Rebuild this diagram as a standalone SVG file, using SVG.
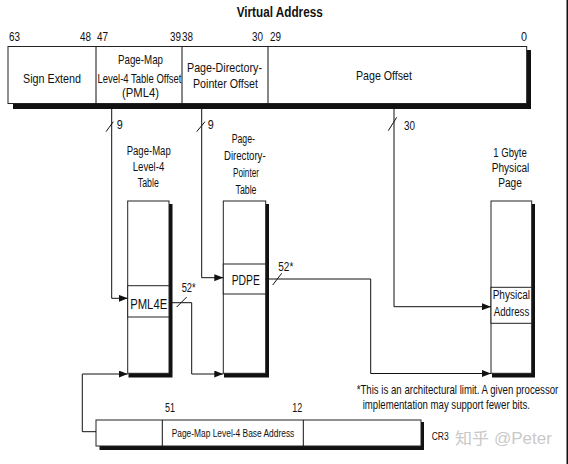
<svg xmlns="http://www.w3.org/2000/svg" width="568" height="464" viewBox="0 0 568 464">
<style>
text{font-family:"Liberation Sans",Arial,sans-serif;fill:#111}
.t13{font-size:13px}
.t12{font-size:12px}
.t14{font-size:14px}
.box{fill:#fff;stroke:#222;stroke-width:1}
.sh{fill:#111}
.ln{fill:none;stroke:#111;stroke-width:1}
.c{text-anchor:middle}
</style>
<defs>
<marker id="ah" markerUnits="userSpaceOnUse" markerWidth="9" markerHeight="7" refX="9" refY="3.5" orient="auto">
<path d="M0,0 L9,3.5 L0,7 z" fill="#111"/>
</marker>
</defs>
<rect width="568" height="464" fill="#fff"/>
<rect x="566.5" y="0" width="1.5" height="464" fill="#111"/>

<g id="title">
<text x="236.7" y="17" font-size="14" font-weight="bold" textLength="86" lengthAdjust="spacingAndGlyphs">Virtual Address</text>
</g>

<g id="virtual-address">
<rect class="sh" x="13" y="50" width="518" height="59"/>
<rect class="box" x="8" y="46.5" width="518.7" height="57"/>
<line class="ln" x1="96" y1="46.5" x2="96" y2="103.5"/>
<line class="ln" x1="182" y1="46.5" x2="182" y2="103.5"/>
<line class="ln" x1="268" y1="46.5" x2="268" y2="103.5"/>
<text class="t12" x="9" y="41" textLength="11" lengthAdjust="spacingAndGlyphs">63</text>
<text class="t12" x="80" y="41" textLength="11" lengthAdjust="spacingAndGlyphs">48</text>
<text class="t12" x="97" y="41" textLength="11" lengthAdjust="spacingAndGlyphs">47</text>
<text class="t12" x="170" y="41" textLength="11" lengthAdjust="spacingAndGlyphs">39</text>
<text class="t12" x="182" y="41" textLength="11" lengthAdjust="spacingAndGlyphs">38</text>
<text class="t12" x="252" y="41" textLength="11" lengthAdjust="spacingAndGlyphs">30</text>
<text class="t12" x="270" y="41" textLength="11" lengthAdjust="spacingAndGlyphs">29</text>
<text class="t12" x="521" y="41" textLength="6" lengthAdjust="spacingAndGlyphs">0</text>
<text class="t13 c" x="52" y="82.5" textLength="58" lengthAdjust="spacingAndGlyphs">Sign Extend</text>
<text class="t13 c" x="140.5" y="63.5" textLength="45" lengthAdjust="spacingAndGlyphs">Page-Map</text>
<text class="t13 c" transform="translate(139.5,82.5) scale(0.75,1)" x="0" y="0" textLength="112" lengthAdjust="spacingAndGlyphs">Level-4 Table Offset</text>
<text class="t13 c" x="140.5" y="97" textLength="37" lengthAdjust="spacingAndGlyphs">(PML4)</text>
<text class="t13 c" transform="translate(224.5,71.5) scale(0.82,1)" x="0" y="0" textLength="91.5" lengthAdjust="spacingAndGlyphs">Page-Directory-</text>
<text class="t13 c" x="225.5" y="88" textLength="65" lengthAdjust="spacingAndGlyphs">Pointer Offset</text>
<text class="t13 c" x="384" y="80" textLength="56" lengthAdjust="spacingAndGlyphs">Page Offset</text>
</g>

<g id="pml4-table">
<text class="t12 c" x="148.7" y="154.5" textLength="44" lengthAdjust="spacingAndGlyphs">Page-Map</text>
<text class="t12 c" x="148.5" y="170.5" textLength="31.6" lengthAdjust="spacingAndGlyphs">Level-4</text>
<text class="t12 c" x="148.3" y="186.5" textLength="21" lengthAdjust="spacingAndGlyphs">Table</text>
<rect class="sh" x="128.5" y="204" width="44" height="173.5"/>
<rect class="box" x="127.7" y="201" width="41.3" height="172.3"/>
<rect class="box" x="127.7" y="285.7" width="41.3" height="31.3"/>
<text class="t14 c" x="148.7" y="309" textLength="37" lengthAdjust="spacingAndGlyphs">PML4E</text>
</g>

<g id="pdp-table">
<text class="t12 c" x="243.3" y="143" textLength="23.3" lengthAdjust="spacingAndGlyphs">Page-</text>
<text class="t12 c" x="244.8" y="160" textLength="41.7" lengthAdjust="spacingAndGlyphs">Directory-</text>
<text class="t12 c" x="246" y="177" textLength="26" lengthAdjust="spacingAndGlyphs">Pointer</text>
<text class="t12 c" x="246" y="194" textLength="21" lengthAdjust="spacingAndGlyphs">Table</text>
<rect class="sh" x="224" y="204" width="45" height="173.5"/>
<rect class="box" x="223.3" y="201" width="42.4" height="172.3"/>
<rect class="box" x="223.3" y="264" width="42.4" height="30"/>
<text class="t14 c" x="245.8" y="285" textLength="28.3" lengthAdjust="spacingAndGlyphs">PDPE</text>
</g>

<g id="physical-page">
<text class="t12 c" x="510" y="157" textLength="33.4" lengthAdjust="spacingAndGlyphs">1 Gbyte</text>
<text class="t12 c" x="510.5" y="172" textLength="37.6" lengthAdjust="spacingAndGlyphs">Physical</text>
<text class="t12 c" x="510" y="187" textLength="23.7" lengthAdjust="spacingAndGlyphs">Page</text>
<rect class="sh" x="492" y="204" width="43" height="173.5"/>
<rect class="box" x="491" y="201" width="40.7" height="172.3"/>
<rect class="box" x="491" y="287.3" width="40.7" height="36"/>
<text class="t12 c" x="511.3" y="298.5" textLength="37.3" lengthAdjust="spacingAndGlyphs">Physical</text>
<text class="t12 c" x="511.5" y="315.5" textLength="35.6" lengthAdjust="spacingAndGlyphs">Address</text>
</g>

<g id="cr3">
<text class="t12" x="165" y="412" textLength="10" lengthAdjust="spacingAndGlyphs">51</text>
<text class="t12" x="292.3" y="412" textLength="10" lengthAdjust="spacingAndGlyphs">12</text>
<rect class="sh" x="99.5" y="422" width="324.5" height="28"/>
<rect class="box" x="96" y="420" width="325" height="26"/>
<line class="ln" x1="162.3" y1="420" x2="162.3" y2="446"/>
<line class="ln" x1="303.3" y1="420" x2="303.3" y2="446"/>
<text class="c" x="233" y="437" font-size="10" textLength="122.6" lengthAdjust="spacingAndGlyphs">Page-Map Level-4 Base Address</text>
<text x="431.7" y="440" font-size="11.5" textLength="17" lengthAdjust="spacingAndGlyphs">CR3</text>
</g>

<g id="footnote">
<text class="t12" transform="translate(356.7,394) scale(0.8,1)" x="0" y="0" textLength="252" lengthAdjust="spacingAndGlyphs">*This is an architectural limit. A given processor</text>
<text class="t12" transform="translate(362.7,408.5) scale(0.8,1)" x="0" y="0" textLength="209" lengthAdjust="spacingAndGlyphs">implementation may support fewer bits.</text>
</g>

<g id="connectors">
<path class="ln" d="M111.7,104 V298.3 H127.7" marker-end="url(#ah)"/>
<path class="ln" d="M201.7,104 V277.7 H223.3" marker-end="url(#ah)"/>
<path class="ln" d="M394,104 V306.7 H491" marker-end="url(#ah)"/>
<path class="ln" d="M169,302.7 H191.7 V374 H223.3" marker-end="url(#ah)"/>
<path class="ln" d="M265.7,279 H370.7 V373.5 H491" marker-end="url(#ah)"/>
<path class="ln" d="M96,431.7 H82.3 V374 H127.7" marker-end="url(#ah)"/>
<line class="ln" x1="106" y1="131.7" x2="113.3" y2="121.7"/>
<line class="ln" x1="196.7" y1="131.7" x2="205" y2="121.7"/>
<line class="ln" x1="388.3" y1="130.7" x2="396.7" y2="117.3"/>
<line class="ln" x1="176.7" y1="307" x2="186.7" y2="297"/>
<line class="ln" x1="272.7" y1="285" x2="281.7" y2="273.3"/>
<text class="t12" x="116.7" y="128.5" textLength="6" lengthAdjust="spacingAndGlyphs">9</text>
<text class="t12" x="207.7" y="128.5" textLength="6" lengthAdjust="spacingAndGlyphs">9</text>
<text class="t12" x="404" y="130" textLength="11" lengthAdjust="spacingAndGlyphs">30</text>
<text class="t12" x="181.7" y="291.5" textLength="14" lengthAdjust="spacingAndGlyphs">52*</text>
<text class="t12" x="278.3" y="271" textLength="15" lengthAdjust="spacingAndGlyphs">52*</text>
</g>

<g id="watermark">
<text x="455" y="444" font-size="16" style="fill:#c9c9c9;font-family:'Liberation Sans','Noto Sans CJK SC',sans-serif" textLength="97" lengthAdjust="spacingAndGlyphs">知乎 @Peter</text>
</g>
</svg>
